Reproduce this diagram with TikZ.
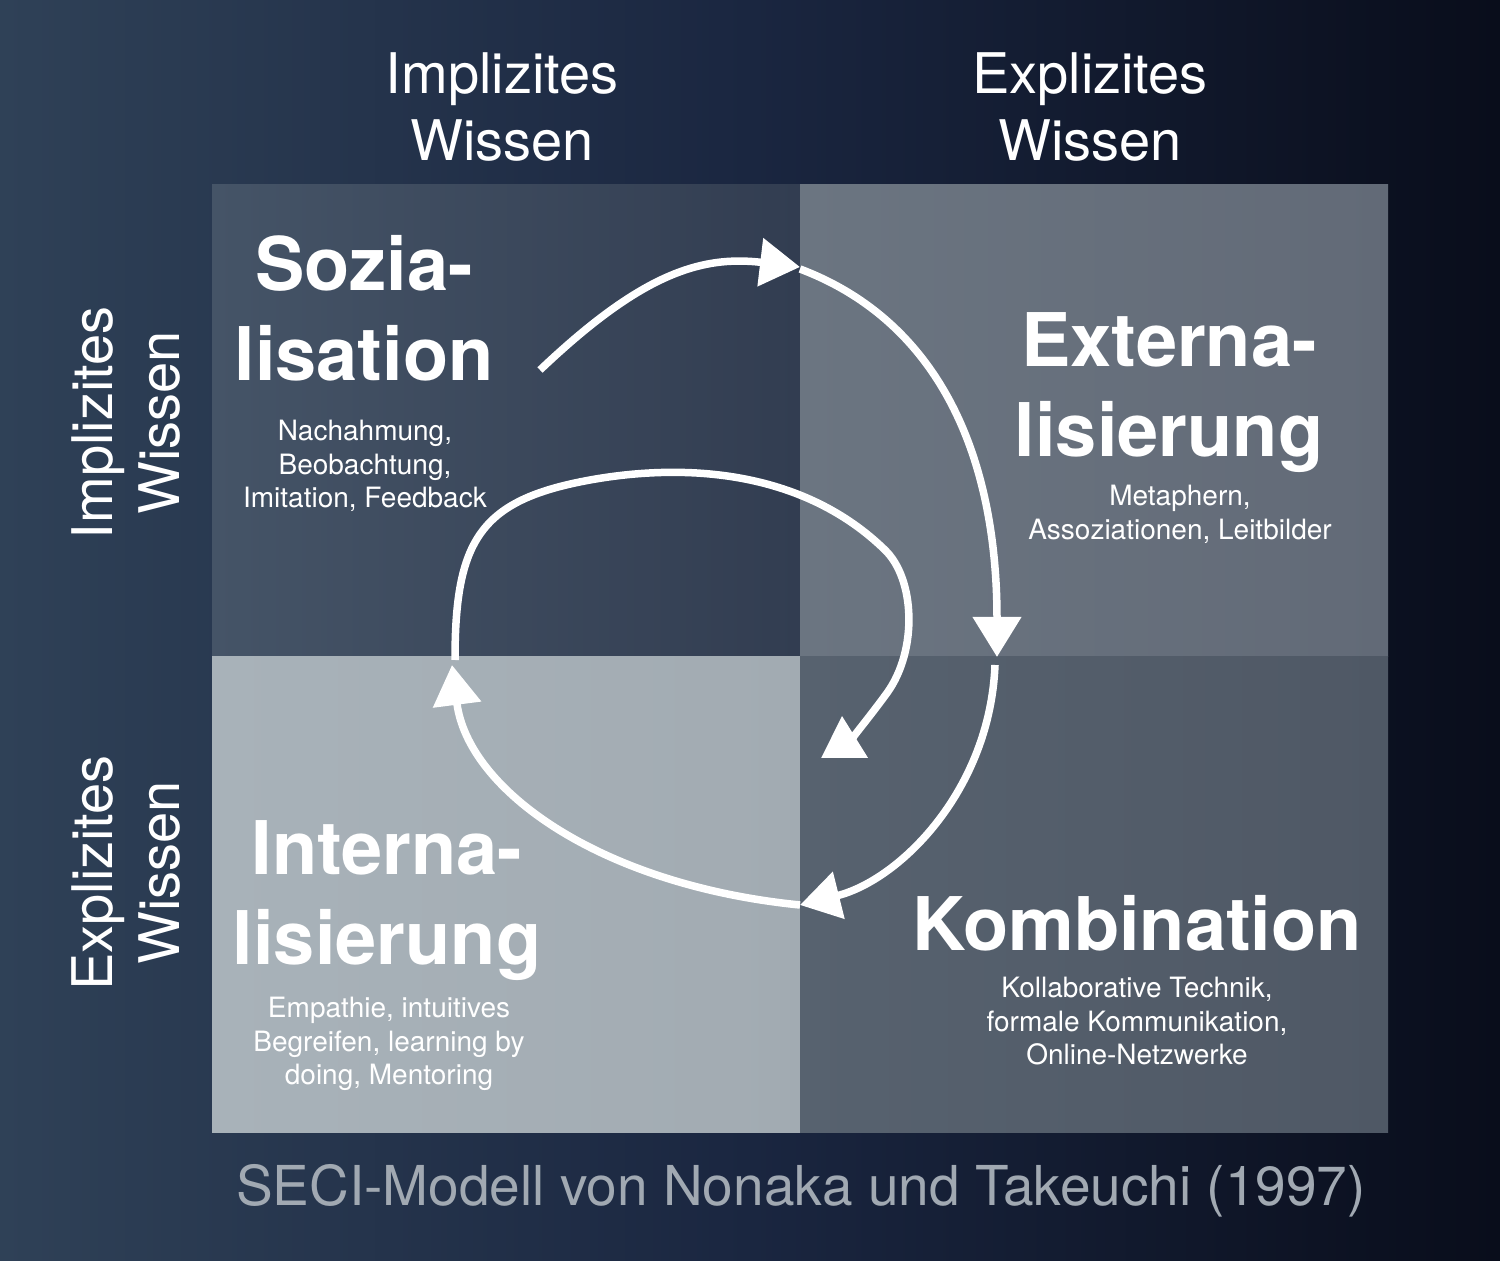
\documentclass[tikz,border=0pt]{standalone}
\usepackage{fontspec}
\setmainfont{TeX Gyre Heros}
\usetikzlibrary{arrows.meta}
\definecolor{bgL}{HTML}{2F4157}
\definecolor{bgM}{HTML}{1A2640}
\definecolor{bgR}{HTML}{090D1B}
\definecolor{qaL}{HTML}{455467}
\definecolor{qaR}{HTML}{323D51}
\definecolor{qbL}{HTML}{6B7581}
\definecolor{qbR}{HTML}{626A77}
\definecolor{qcL}{HTML}{A8B2B9}
\definecolor{qcR}{HTML}{A2ABB2}
\definecolor{qdL}{HTML}{57626F}
\definecolor{qdR}{HTML}{4F5865}
\definecolor{capgray}{HTML}{A1A9B2}
\tikzset{
  hdr/.style={text=white, align=center, inner sep=0pt, font=\fontsize{28pt}{33.5pt}\selectfont},
  ttl/.style={text=white, align=center, inner sep=0pt, anchor=north, font=\fontsize{37pt}{45pt}\selectfont\bfseries},
  sml/.style={text=white, align=center, inner sep=0pt, anchor=north, font=\fontsize{14pt}{16.6pt}\selectfont},
  flow/.style={draw=white, line width=3.75pt, -{Triangle[length=20pt,width=23.5pt]}}
}
\begin{document}
\begin{tikzpicture}[x=0.5pt,y=-0.5pt]
\useasboundingbox (0,0) rectangle (1500,1261);
\shade[left color=bgL, right color=bgR, middle color=bgM] (0,0) rectangle (1500,1261);
% quadrants
\shade[left color=qaL, right color=qaR] (212,185) rectangle (800,657);
\shade[left color=qbL, right color=qbR] (800,185) rectangle (1388,657);
\shade[left color=qcL, right color=qcR] (212,657) rectangle (800,1132);
\shade[left color=qdL, right color=qdR] (800,657) rectangle (1388,1132);
% headers
\node[hdr] (hL) at (502,107.5) {Implizites\\Wissen};
\node[hdr] (hR) at (1090,107.5) {Explizites\\Wissen};
\node[hdr, rotate=90] (vT) at (126.5,423) {Implizites\\Wissen};
\node[hdr, rotate=90] (vB) at (126.5,873) {Explizites\\Wissen};
% quadrant titles
\node[ttl] (tS) at (364,235) {Sozia-\\lisation};
\node[sml] (sS) at (365,420) {Nachahmung,\\Beobachtung,\\Imitation, Feedback};
\node[ttl] (tE) at (1169,312) {Externa-\\lisierung};
\node[sml] (sE) at (1180,485) {Metaphern,\\Assoziationen, Leitbilder};
\node[ttl] (tI) at (387,820) {Interna-\\lisierung};
\node[sml] (sI) at (389,997) {Empathie, intuitives\\Begreifen, learning by\\doing, Mentoring};
\node[ttl] (tK) at (1137,895) {Kombination};
\node[sml] (sK) at (1137,977) {Kollaborative Technik,\\formale Kommunikation,\\Online-Netzwerke};
% caption
\node[text=capgray, inner sep=0pt, anchor=base, font=\fontsize{27.5pt}{33pt}\selectfont] (cap) at (801,1205) {SECI-Modell von Nonaka und Takeuchi (1997)};
% arrow points
\coordinate (p1) at (540,370);
\coordinate (p2) at (800,267);
\coordinate (p2b) at (800,269);
\coordinate (p3) at (997,657);
\coordinate (p3b) at (995,665);
\coordinate (p4) at (800,905);
\coordinate (p5) at (452,665);
\coordinate (q0) at (455,660);
\coordinate (q1) at (590,480);
\coordinate (q2) at (885,550);
\coordinate (q3) at (887,693);
\coordinate (q4) at (821,758);
% arrows
\draw[flow] (p1) .. controls (640,275) and (700,255) .. (p2);
\draw[flow] (p2b) .. controls (935,320) and (997,450) .. (p3);
\draw[flow] (p3b) .. controls (990,790) and (900,880) .. (p4);
\draw[flow] (p4) .. controls (600,885) and (468,790) .. (p5);
\draw[flow] (q0) .. controls (455,540) and (480,500) .. (q1)
  .. controls (690,462) and (805,472) .. (q2)
  .. controls (915,579) and (918,650) .. (q3)
  .. controls (865,723) and (850,740) .. (q4);
\end{tikzpicture}
\end{document}
